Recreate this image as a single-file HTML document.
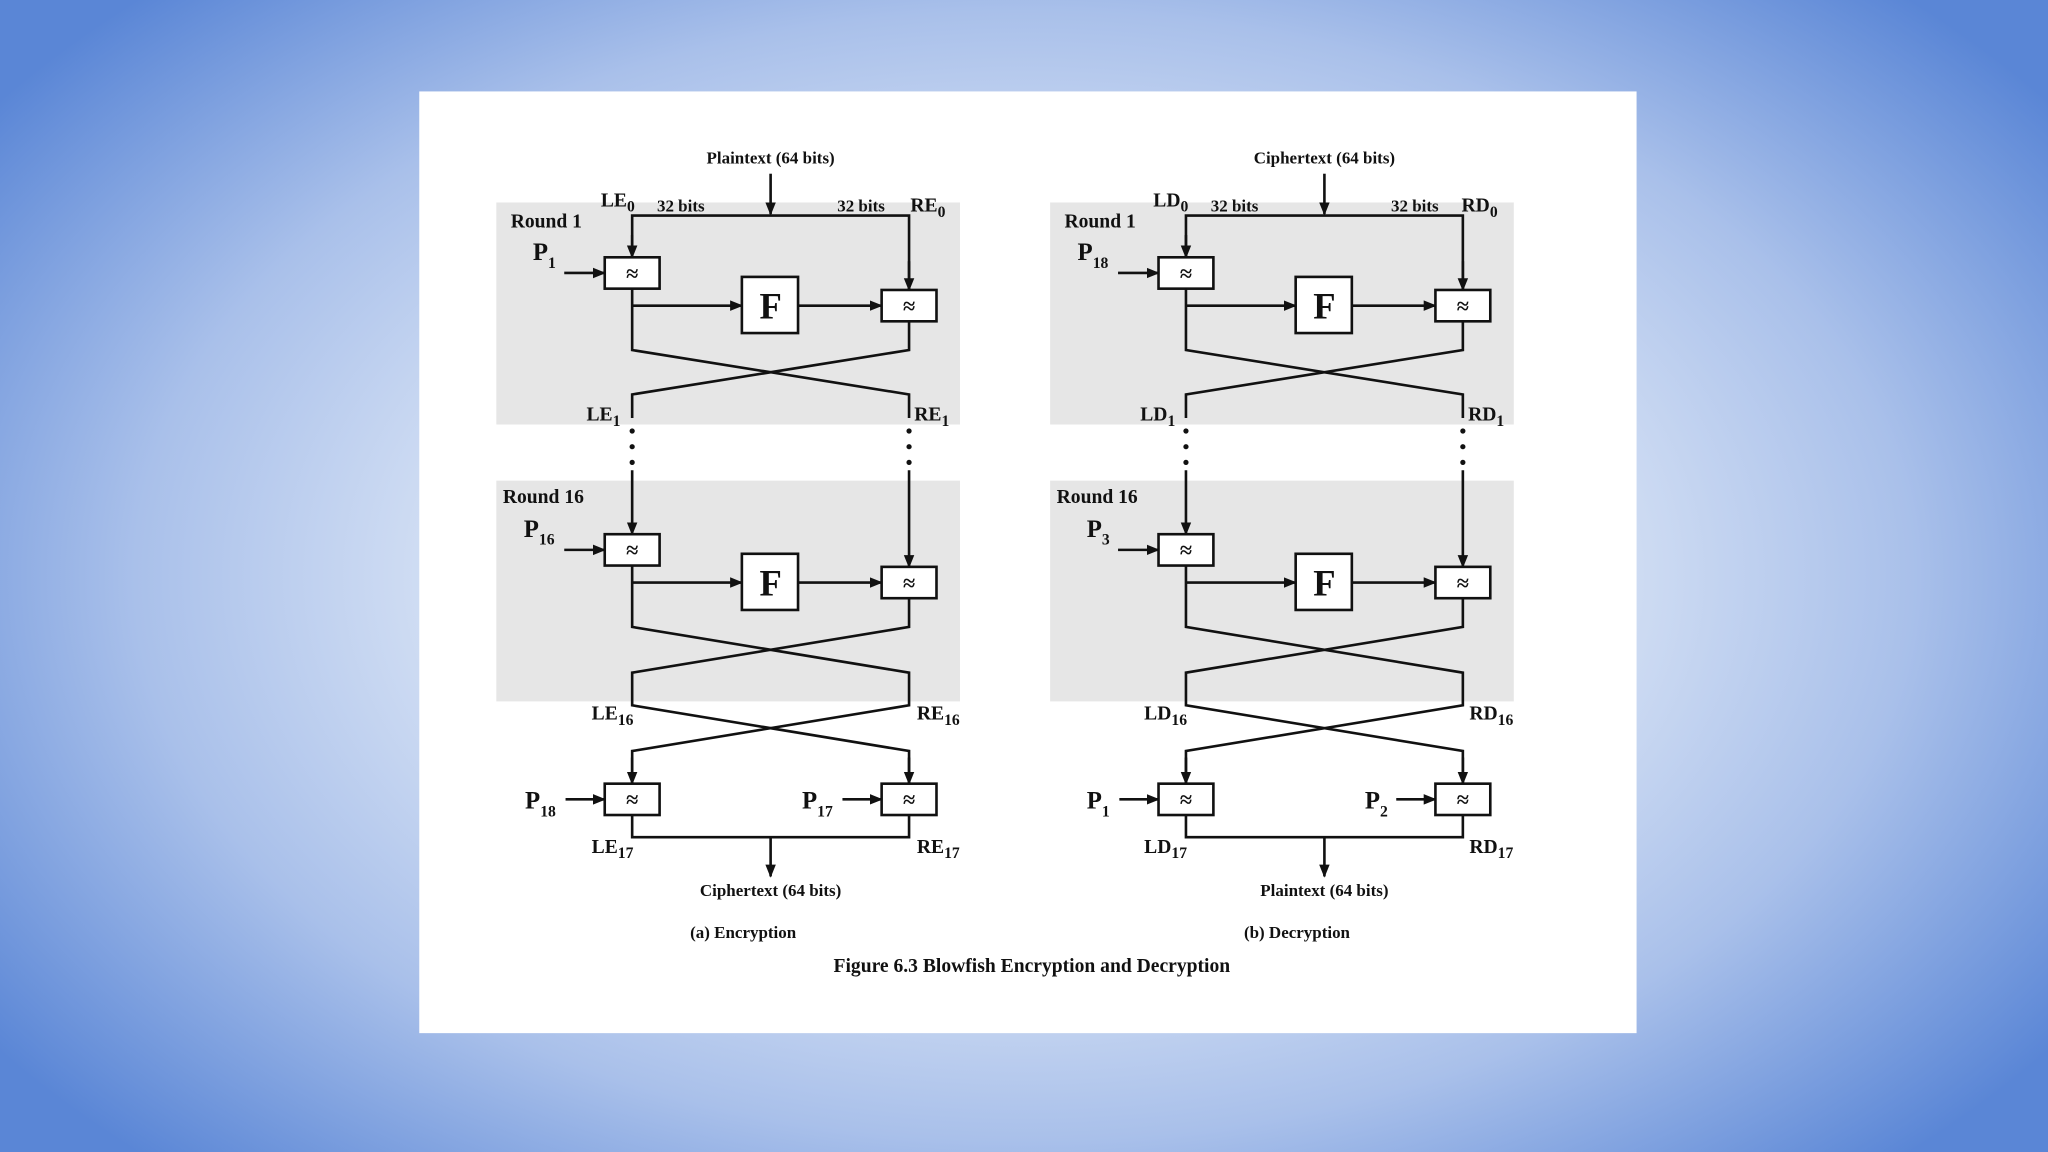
<!DOCTYPE html>
<html><head><meta charset="utf-8"><style>
html,body{margin:0;padding:0;width:2048px;height:1152px;overflow:hidden}
body{background:radial-gradient(ellipse 62% 70% at 50% 50%,#ffffff 0%,#e4ecf8 35%,#a9c0ea 70%,#5a86d6 100%)}
svg{position:absolute;left:0;top:0}
text{font-family:"Liberation Serif",serif;font-weight:bold;fill:#111}
</style></head><body>
<svg width="2048" height="1152" viewBox="0 0 1568 882">
<defs>
<marker id="a" markerWidth="10" markerHeight="10" refX="9" refY="5" orient="auto" markerUnits="userSpaceOnUse">
<path d="M0,1 L10,5 L0,9 Z" fill="#111"/></marker>
<g id="d" stroke="#111" stroke-width="2" fill="none">
<rect x="380" y="155" width="355" height="170" fill="#e6e6e6" stroke="none"/>
<rect x="380" y="368" width="355" height="169" fill="#e6e6e6" stroke="none"/>
<line x1="590" y1="133" x2="590" y2="164" marker-end="url(#a)"/>
<polyline points="484,197 484,165 696,165 696,222" />
<line x1="484" y1="180" x2="484" y2="197" marker-end="url(#a)"/>
<line x1="696" y1="200" x2="696" y2="222" marker-end="url(#a)"/>
<line x1="432" y1="209" x2="463" y2="209" marker-end="url(#a)"/>
<rect x="463" y="197" width="42" height="24" fill="#fff"/>
<line x1="484" y1="234" x2="568" y2="234" marker-end="url(#a)"/>
<rect x="568" y="212" width="43" height="43" fill="#fff"/>
<line x1="611" y1="234" x2="675" y2="234" marker-end="url(#a)"/>
<rect x="675" y="222" width="42" height="24" fill="#fff"/>
<polyline points="484,221 484,268 696,302 696,320"/>
<polyline points="696,246 696,268 484,302 484,320"/>
<g fill="#111" stroke="none">
<circle cx="484" cy="330" r="2"/><circle cx="484" cy="342" r="2"/><circle cx="484" cy="354" r="2"/>
<circle cx="696" cy="330" r="2"/><circle cx="696" cy="342" r="2"/><circle cx="696" cy="354" r="2"/>
</g>
<line x1="484" y1="360" x2="484" y2="409" marker-end="url(#a)"/>
<line x1="696" y1="360" x2="696" y2="434" marker-end="url(#a)"/>
<line x1="432" y1="421" x2="463" y2="421" marker-end="url(#a)"/>
<rect x="463" y="409" width="42" height="24" fill="#fff"/>
<line x1="484" y1="446" x2="568" y2="446" marker-end="url(#a)"/>
<rect x="568" y="424" width="43" height="43" fill="#fff"/>
<line x1="611" y1="446" x2="675" y2="446" marker-end="url(#a)"/>
<rect x="675" y="434" width="42" height="24" fill="#fff"/>
<polyline points="484,433 484,480 696,515 696,540 484,575 484,600"/>
<polyline points="696,458 696,480 484,515 484,540 696,575 696,600"/>
<line x1="484" y1="580" x2="484" y2="600" marker-end="url(#a)"/>
<line x1="696" y1="580" x2="696" y2="600" marker-end="url(#a)"/>
<line x1="433" y1="612" x2="463" y2="612" marker-end="url(#a)"/>
<line x1="645" y1="612" x2="675" y2="612" marker-end="url(#a)"/>
<rect x="463" y="600" width="42" height="24" fill="#fff"/>
<rect x="675" y="600" width="42" height="24" fill="#fff"/>
<polyline points="484,624 484,641 696,641 696,624"/>
<line x1="590" y1="641" x2="590" y2="671" marker-end="url(#a)"/>
<g fill="#111" stroke="none" font-size="17" text-anchor="middle" font-family="Liberation Serif,serif">
<text x="484" y="215">≈</text><text x="696" y="240">≈</text>
<text x="484" y="427">≈</text><text x="696" y="452">≈</text>
<text x="484" y="618">≈</text><text x="696" y="618">≈</text>
<text x="590" y="244" font-size="28" font-weight="bold">F</text>
<text x="590" y="456" font-size="28" font-weight="bold">F</text>
</g>
</g>
</defs>
<rect x="321" y="70" width="932" height="721" fill="#fff"/>
<use href="#d"/>
<use href="#d" x="424"/>
<g font-size="13">
<text x="590" y="125" text-anchor="middle">Plaintext (64 bits)</text>
<text x="503" y="162">32 bits</text><text x="641" y="162">32 bits</text>
<text x="1014" y="125" text-anchor="middle">Ciphertext (64 bits)</text>
<text x="927" y="162">32 bits</text><text x="1065" y="162">32 bits</text>
<text x="590" y="686" text-anchor="middle">Ciphertext (64 bits)</text>
<text x="569" y="718" text-anchor="middle">(a) Encryption</text>
<text x="1014" y="686" text-anchor="middle">Plaintext (64 bits)</text>
<text x="993" y="718" text-anchor="middle">(b) Decryption</text>
</g>
<g font-size="15">
<text x="391" y="174">Round 1</text><text x="385" y="385">Round 16</text>
<text x="815" y="174">Round 1</text><text x="809" y="385">Round 16</text>
<text x="790" y="744" text-anchor="middle">Figure 6.3  Blowfish  Encryption and Decryption</text>
</g>
<g font-size="15">
<text x="460" y="158">LE<tspan font-size="12" dy="4">0</tspan></text>
<text x="697" y="162">RE<tspan font-size="12" dy="4">0</tspan></text>
<text x="449" y="322">LE<tspan font-size="12" dy="4">1</tspan></text>
<text x="700" y="322">RE<tspan font-size="12" dy="4">1</tspan></text>
<text x="453" y="551">LE<tspan font-size="12" dy="4">16</tspan></text>
<text x="702" y="551">RE<tspan font-size="12" dy="4">16</tspan></text>
<text x="453" y="653">LE<tspan font-size="12" dy="4">17</tspan></text>
<text x="702" y="653">RE<tspan font-size="12" dy="4">17</tspan></text>
<text x="883" y="158">LD<tspan font-size="12" dy="4">0</tspan></text>
<text x="1119" y="162">RD<tspan font-size="12" dy="4">0</tspan></text>
<text x="873" y="322">LD<tspan font-size="12" dy="4">1</tspan></text>
<text x="1124" y="322">RD<tspan font-size="12" dy="4">1</tspan></text>
<text x="876" y="551">LD<tspan font-size="12" dy="4">16</tspan></text>
<text x="1125" y="551">RD<tspan font-size="12" dy="4">16</tspan></text>
<text x="876" y="653">LD<tspan font-size="12" dy="4">17</tspan></text>
<text x="1125" y="653">RD<tspan font-size="12" dy="4">17</tspan></text>
</g>
<g font-size="19">
<text x="408" y="199">P<tspan font-size="12" dy="6">1</tspan></text>
<text x="401" y="411">P<tspan font-size="12" dy="6">16</tspan></text>
<text x="402" y="619">P<tspan font-size="12" dy="6">18</tspan></text>
<text x="614" y="619">P<tspan font-size="12" dy="6">17</tspan></text>
<text x="825" y="199">P<tspan font-size="12" dy="6">18</tspan></text>
<text x="832" y="411">P<tspan font-size="12" dy="6">3</tspan></text>
<text x="832" y="619">P<tspan font-size="12" dy="6">1</tspan></text>
<text x="1045" y="619">P<tspan font-size="12" dy="6">2</tspan></text>
</g>
</svg>
</body></html>
